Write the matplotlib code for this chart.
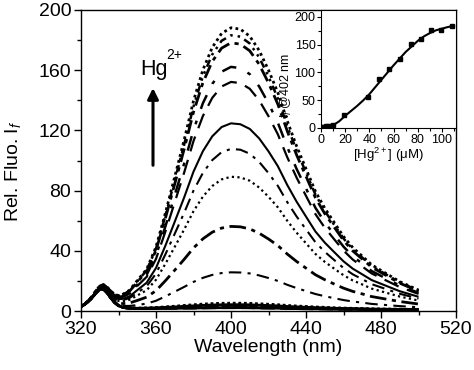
import numpy as np
import matplotlib
matplotlib.use("Agg")
import matplotlib.pyplot as plt
from matplotlib.ticker import MultipleLocator

plt.rcParams['font.family'] = ['Liberation Sans', 'DejaVu Sans']
plt.rcParams['mathtext.fontset'] = 'custom'
plt.rcParams['mathtext.rm'] = 'Liberation Sans'
plt.rcParams['mathtext.it'] = 'Liberation Sans:italic'

# wavelength grid (nm)
wl = np.array([320, 322, 324, 326, 328, 330, 332, 334, 336, 338, 340, 342, 344, 346,
               350, 355, 360, 365, 370, 375, 380, 385, 390, 395, 400, 405, 410,
               415, 420, 425, 430, 435, 440, 445, 450, 455, 460, 465, 470, 475,
               480, 485, 490, 495, 500])
# normalised emission band (peak ~402 nm)
band = np.array([0.0, 0.0, 0.002, 0.005, 0.008, 0.012, 0.016, 0.02, 0.025, 0.03, 0.036,
                 0.045, 0.055, 0.065, 0.10, 0.14, 0.22, 0.34, 0.47, 0.60, 0.74, 0.85,
                 0.93, 0.98, 1.0, 0.995, 0.97, 0.92, 0.85, 0.77, 0.67, 0.58, 0.50,
                 0.42, 0.36, 0.31, 0.26, 0.22, 0.19, 0.16, 0.14, 0.12, 0.10, 0.085, 0.07])
# short-wavelength band common to every spectrum
base = np.array([3, 4.5, 6.5, 9, 12, 14.5, 14.5, 12, 8.5, 5.5, 3.5, 2.5, 2, 1.8,
                 1.5, 1.5, 1.4, 1.4, 1.3, 1.3, 1.2, 1.2, 1.2, 1.2, 1.2, 1.2, 1.2,
                 1.1, 1.1, 1.1, 1.0, 1.0, 1.0, 1.0, 1.0, 0.9, 0.9, 0.9, 0.9, 0.8,
                 0.8, 0.8, 0.8, 0.8, 0.8])

# emission intensity at 402 nm for each Hg2+ addition
peaks = [1, 1, 2, 2, 3, 4, 24.5, 55, 88, 106.5, 123.5, 151, 161, 177, 182, 187]
styles = [(0, ()), (0, (5, 2)), (0, (1, 1)), (0, (5, 2, 1, 2)), (0, ()), (0, (1, 1)),
          (0, (6, 3, 1.5, 3)), (0, (6, 2, 1.5, 2)), (0, (1, 1.5)), (0, (6, 3, 1.5, 3)),
          (0, ()), (0, (7, 4)), (0, (6, 5, 1.5, 5)), (0, (5, 2, 1.5, 2)),
          (0, (3, 2, 1, 2, 1, 2)), (0, (1, 1.2))]
widths = [2, 2, 2, 2, 2, 2, 1.5, 2, 1.6, 1.5, 1.5, 1.6, 1.8, 2, 1.8, 2]

# inset: titration at 402 nm
conc = [0, 2, 4, 6, 8, 10, 19.3, 38.5, 48, 56.5, 65.5, 74.5, 82.5, 91, 99, 108]
i402 = [2, 2, 3, 3, 4, 5, 24, 55, 88, 107, 124, 152, 161, 177, 176, 183]
fit_x = [0, 5, 10, 15, 20, 25, 30, 35, 40, 45, 50, 55, 60, 65, 70, 75, 80, 85,
         90, 95, 100, 105, 110]
fit_y = [2, 3, 5, 12, 22, 31, 40, 50, 61, 74, 87, 100, 113, 125, 137, 147, 157,
         165, 171, 176, 179, 182, 184]

fig = plt.figure(figsize=(4.74, 3.70), dpi=100)
ax = fig.add_axes([81/474, 59/370, 375/474, 301/370])

for p, ls, lw in zip(peaks, styles, widths):
    ax.plot(wl, p * band + base, color='k', linestyle=ls, linewidth=lw)

ax.set_xlim(320, 520)
ax.set_ylim(0, 200)
ax.xaxis.set_major_locator(MultipleLocator(40))
ax.xaxis.set_minor_locator(MultipleLocator(20))
ax.yaxis.set_major_locator(MultipleLocator(40))
ax.yaxis.set_minor_locator(MultipleLocator(20))
ax.tick_params(which='major', length=5, width=1, labelsize=14, direction='out', pad=2)
ax.tick_params(which='minor', length=3, width=1, direction='out')
for s in ax.spines.values():
    s.set_linewidth(1)
ax.set_xlabel("Wavelength (nm)", fontsize=14, labelpad=1)
ax.set_ylabel("Rel. Fluo. I$_{f}$", fontsize=14)
ax.yaxis.set_label_coords(-0.155, 0.465)

ax.annotate("", xy=(358.4, 150), xytext=(358.4, 95),
            arrowprops=dict(arrowstyle='-|>', lw=2.2, color='k', mutation_scale=16))
ax.text(351.5, 156.8, "Hg", fontsize=15.5, va='baseline', ha='left')
ax.text(365.3, 167.5, "2+", fontsize=10, va='baseline', ha='left')

ins = fig.add_axes([321/474, 242/370, 135/474, 118/370])
ins.plot(fit_x, fit_y, color='k', linewidth=1.5)
ins.plot(conc, i402, 's', color='k', markersize=3.5)
ins.set_xlim(0, 111.6)
ins.set_ylim(0, 212.6)
ins.xaxis.set_major_locator(MultipleLocator(20))
ins.xaxis.set_minor_locator(MultipleLocator(10))
ins.yaxis.set_major_locator(MultipleLocator(50))
ins.yaxis.set_minor_locator(MultipleLocator(25))
ins.tick_params(which='major', length=3, width=0.8, labelsize=9, pad=1)
ins.tick_params(which='minor', length=2, width=0.8)
ins.set_xlabel("[Hg$^{2+}$] (\u03bcM)", fontsize=9.5, labelpad=0)
ins.set_ylabel("I$_{f}$ @402 nm", fontsize=9)
ins.yaxis.set_label_coords(-0.2, 0.36)

fig.savefig("out.png", dpi=100)
